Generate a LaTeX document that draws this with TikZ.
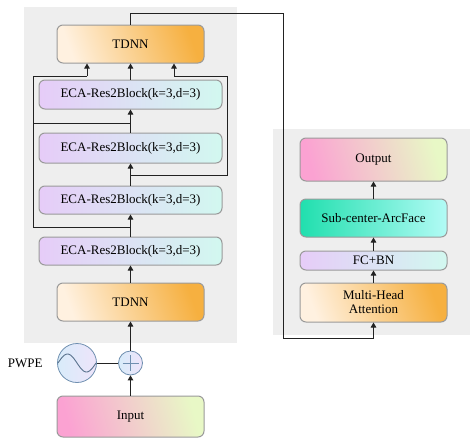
\documentclass[tikz,border=0pt]{standalone}
\usepackage{fontspec}
\setmainfont{Liberation Serif}
\usetikzlibrary{arrows.meta}
\definecolor{panel}{HTML}{EEEEEE}
\definecolor{bord}{HTML}{9A9A9A}
\definecolor{tdnnL}{HTML}{FFF1E0}
\definecolor{tdnnR}{HTML}{F6B040}
\definecolor{ecaL}{HTML}{E6CCF8}
\definecolor{ecaR}{HTML}{D2F8F0}
\definecolor{inL}{HTML}{FBA2D2}
\definecolor{inR}{HTML}{E8F8C6}
\definecolor{arcL}{HTML}{20DFAE}
\definecolor{arcR}{HTML}{B2FBF5}
\definecolor{circL}{HTML}{D8ECFA}
\definecolor{circR}{HTML}{EEE4FA}
\definecolor{circB}{HTML}{6F8FB0}
\definecolor{lin}{HTML}{222222}
\tikzset{
  blk/.style={draw=bord, line width=1pt, rounded corners=6pt, minimum width=147pt, align=center, font=\fontsize{13}{14}\selectfont, inner sep=0pt},
  tdnnbox/.style={blk, left color=tdnnL, right color=tdnnR, shading angle=110},
  ecabox/.style={blk, minimum width=183pt, left color=ecaL, right color=ecaR},
  inbox/.style={blk, left color=inL, right color=inR, shading angle=105},
  arcbox/.style={blk, left color=arcL, right color=arcR},
  conn/.style={draw=lin, line width=1pt},
  arr/.style={conn, -{Triangle[length=5pt,width=5.5pt]}},
  circ/.style={circle, draw=circB, line width=0.8pt, left color=circL, right color=circR, inner sep=0pt}
}
\begin{document}
\begin{tikzpicture}[x=1pt,y=-1pt]
\useasboundingbox (0,0) rectangle (474,445);
\fill[white] (0,0) rectangle (474,445);
% panels
\fill[panel] (24,7) rectangle (237,343);
\fill[panel] (273,129) rectangle (470,335);
% left column
\node[tdnnbox, minimum height=38pt] (tdnn1) at (130.5,44) {TDNN};
\node[ecabox, minimum height=29pt] (eca1) at (130.5,94.5) {ECA-Res2Block(k=3,d=3)};
\node[ecabox, minimum height=30pt] (eca2) at (130.5,148) {ECA-Res2Block(k=3,d=3)};
\node[ecabox, minimum height=28pt] (eca3) at (130.5,200) {ECA-Res2Block(k=3,d=3)};
\node[ecabox, minimum height=28pt] (eca4) at (130.5,251) {ECA-Res2Block(k=3,d=3)};
\node[tdnnbox, minimum height=38pt] (tdnn2) at (130.5,302) {TDNN};
\node[inbox, minimum height=41pt] (input) at (130.5,416.5) {Input};
\node[circ, minimum size=24pt] (plus) at (130.5,363) {};
\node[circ, minimum size=39pt] (sine) at (77,363) {};
\node[font=\fontsize{13}{14}\selectfont, anchor=east] (pwpe) at (46,363) {PWPE};
% plus sign and sine
\draw[circB, line width=0.8pt] (plus.center) ++(-8,0) -- ++(16,0);
\draw[circB, line width=0.8pt] (plus.center) ++(0,-8) -- ++(0,16);
\draw[draw=circB!80!black, line width=0.9pt, smooth, domain=0:360, samples=40]
  plot ({58+\x/360*38},{363-9*sin(\x)});
% right column
\node[inbox, minimum height=43pt] (output) at (373.5,159.5) {Output};
\node[arcbox, minimum height=38pt] (arc) at (373.5,218) {Sub-center-ArcFace};
\node[ecabox, minimum width=147pt, minimum height=19pt] (fcbn) at (373.5,260.5) {FC+BN};
\node[tdnnbox, minimum height=39pt] (mha) at (373.5,302.5) {Multi-Head\\Attention};
% connectors
\coordinate (s1) at (130.5,123);
\coordinate (s2) at (130.5,175);
\coordinate (s3) at (130.5,227);
\coordinate (lt) at (33,76);
\coordinate (rt) at (227,76);
\coordinate (la) at (87,76);
\coordinate (ra) at (174,76);
\draw[arr] (input.north) -- (plus.south);
\draw[arr] (plus.north) -- (tdnn2.south);
\draw[conn] (sine.east) -- (plus.west);
\draw[arr] (tdnn2.north) -- (eca4.south);
\draw[arr] (eca4.north) -- (eca3.south);
\draw[arr] (eca3.north) -- (eca2.south);
\draw[arr] (eca2.north) -- (eca1.south);
\draw[arr] (eca1.north) -- (tdnn1.south);
\draw[conn] (s3) -- (s3 -| lt) -- (lt) -- (la);
\draw[arr] (la) -- (la |- tdnn1.south);
\draw[conn] (s1) -- (s1 -| lt);
\draw[conn] (s2) -- (s2 -| rt) -- (rt) -- (ra);
\draw[arr] (ra) -- (ra |- tdnn1.south);
\coordinate (t1) at (130.5,13);
\coordinate (t2) at (283,13);
\coordinate (t3) at (283,338);
\draw[arr] (tdnn1.north) -- (t1) -- (t2) -- (t3) -- (t3 -| mha.south) -- (mha.south);
\draw[arr] (mha.north) -- (fcbn.south);
\draw[arr] (fcbn.north) -- (arc.south);
\draw[arr] (arc.north) -- (output.south);
\end{tikzpicture}
\end{document}
